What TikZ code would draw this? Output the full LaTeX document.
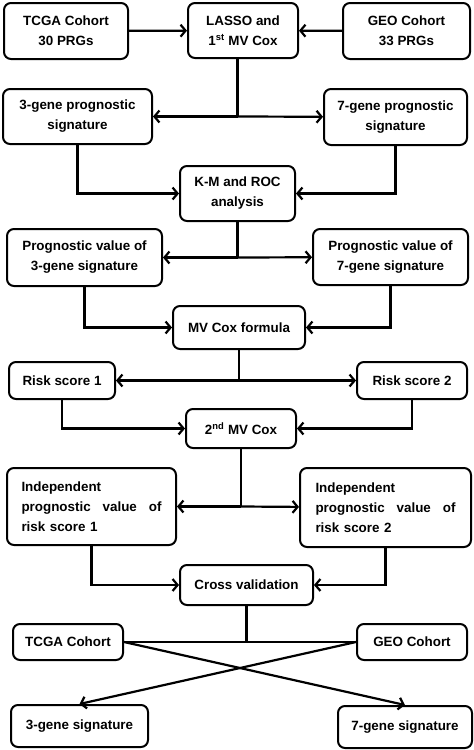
\documentclass[tikz,border=0pt]{standalone}
\usepackage{fontspec}
\setmainfont{Liberation Sans}
\usetikzlibrary{arrows.meta, calc, positioning}

\begin{document}
\begin{tikzpicture}[x=1pt, y=-1pt, >={Straight Barb[length=5pt,width=12pt]}]
    \tikzstyle{format} = [draw, line width=2pt, rounded corners=7pt,
	font=\bfseries\fontsize{13.4}{20}\selectfont, align=center, inner sep=0pt]
    \tikzstyle{link} = [draw, line width=2.2pt]
    \tikzstyle{vh} = [to path={|- (\tikztotarget)}]
    \useasboundingbox (0,0) rectangle (474,750);

		\path[->, line width=2.2pt]
			node[format, minimum width=124pt, minimum height=56pt] (tcga) at (66,31) {TCGA Cohort\\30 PRGs}
			node[format, minimum width=110pt, minimum height=55pt] (lasso) at (243,30.5) {LASSO and\\1\textsuperscript{st} MV Cox}
			node[format, minimum width=127pt, minimum height=56pt] (geo) at (406.5,31) {GEO Cohort\\33 PRGs}
			node[format, minimum width=149pt, minimum height=55pt] (tprog) at (77.5,116.5) {3-gene prognostic\\signature}
			node[format, minimum width=143pt, minimum height=56pt] (sprog) at (395.5,117) {7-gene prognostic\\signature}
			node[format, minimum width=115pt, minimum height=55pt] (km) at (237.5,193.5) {K-M and ROC\\analysis}
			node[format, minimum width=155pt, minimum height=57pt] (tval) at (84.5,257.5) {Prognostic value of\\3-gene signature}
			node[format, minimum width=155pt, minimum height=56pt] (sval) at (390.5,257) {Prognostic value of\\7-gene signature}
			node[format, minimum width=132pt, minimum height=43pt] (mvcox) at (239,327.5) {MV Cox formula}
			node[format, minimum width=106pt, minimum height=37pt] (risk1) at (62,380.5) {Risk score 1}
			node[format, minimum width=110pt, minimum height=37pt] (risk2) at (412,380.5) {Risk score 2}
			node[format, minimum width=110pt, minimum height=39pt] (mvcoxb) at (241,428.5) {2\textsuperscript{nd} MV Cox}
			node[format, minimum width=169pt, minimum height=77pt, text width=140pt, align=left] (indep1) at (91.5,506.5) {Independent\\\makebox[140pt][l]{prognostic\hfill value\hfill of}\\risk score 1}
			node[format, minimum width=171pt, minimum height=79pt, text width=140pt, align=left] (indep2) at (385.5,507.5) {Independent\\\makebox[140pt][l]{prognostic\hfill value\hfill of}\\risk score 2}
			node[format, minimum width=133pt, minimum height=40pt] (cross) at (246.5,585) {Cross validation}
			node[format, minimum width=110pt, minimum height=36pt] (tcgab) at (68,642) {TCGA Cohort}
			node[format, minimum width=110pt, minimum height=36pt] (geob) at (412,642) {GEO Cohort}
			node[format, minimum width=137pt, minimum height=42pt] (tsig) at (79.5,726) {3-gene signature}
			node[format, minimum width=134pt, minimum height=42pt] (ssig) at (405,727) {7-gene signature}

			% junctions below the middle column
			coordinate (j1) at (km.north |- tprog.east)
			coordinate (j2) at (km.south |- tval.east)
			coordinate (j3) at (mvcox.south |- risk1.east)
			coordinate (j4) at (mvcoxb.south |- indep1.east)
			coordinate (j5) at (cross.south |- tcgab.east)

			(tcga) edge[link] (lasso)
			(geo) edge[link] (lasso)
			(lasso.south -| j1) edge[link, -] (j1)
			(j1) edge[link] (tprog)
			(j1) edge[link] (sprog)
			(tprog) edge[link, vh] (km)
			(sprog) edge[link, vh] (km)
			(km.south -| j2) edge[link, -] (j2)
			(j2) edge[link] (tval)
			(j2) edge[link] (sval)
			(tval) edge[link, vh] (mvcox)
			(sval) edge[link, vh] (mvcox)
			(mvcox.south -| j3) edge[link, -] (j3)
			(j3) edge[link] (risk1)
			(j3) edge[link] (risk2)
			(risk1) edge[link, vh] (mvcoxb)
			(risk2) edge[link, vh] (mvcoxb)
			(mvcoxb.south -| j4) edge[link, -] (j4)
			(j4) edge[link] (indep1)
			(j4) edge[link] (indep2)
			(indep1) edge[link, vh] (cross)
			(indep2) edge[link, vh] (cross)
			(cross.south -| j5) edge[link, -] (j5)
			(tcgab.east) edge[link, -] (geob.west)
			(tcgab.east) edge[link] (ssig.north)
			(geob.west) edge[link] (tsig.north)
		;

\end{tikzpicture}
\end{document}
